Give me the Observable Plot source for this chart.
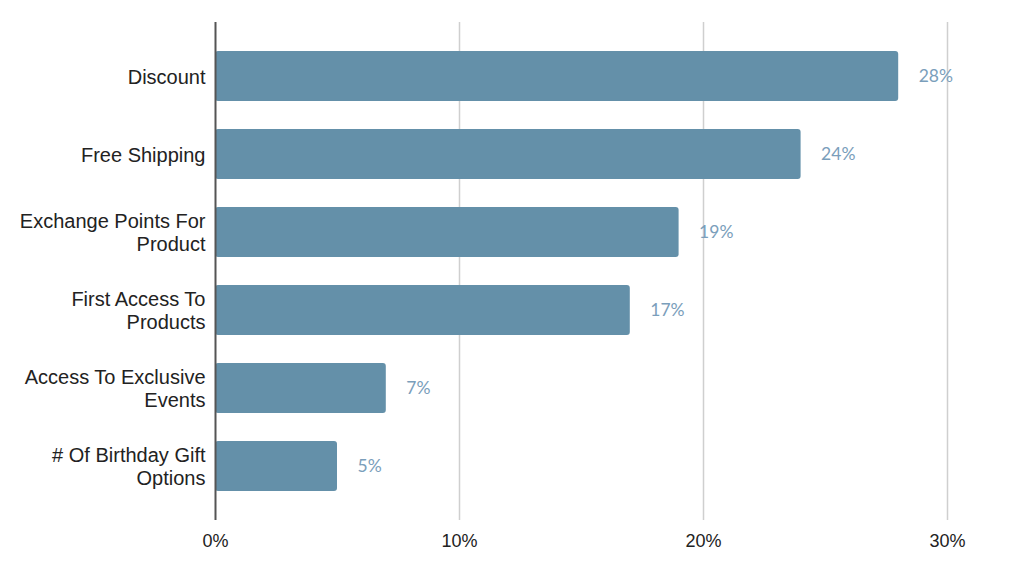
<!DOCTYPE html>
<html>
<head>
<meta charset="utf-8">
<script src="https://cdn.jsdelivr.net/npm/d3@7"></script>
<script src="https://cdn.jsdelivr.net/npm/@observablehq/plot@0.6"></script>
<style>
  html, body { margin: 0; padding: 0; background: #fff; }
  #chart svg { display: block; }
</style>
</head>
<body>
<div id="chart"></div>
<script>
const categories = [
  "Discount",
  "Free Shipping",
  "Exchange Points For Product",
  "First Access To Products",
  "Access To Exclusive Events",
  "# Of Birthday Gift Options"
];
const categoryLabels = [
  "Discount",
  "Free Shipping",
  "Exchange Points For\nProduct",
  "First Access To\nProducts",
  "Access To Exclusive\nEvents",
  "# Of Birthday Gift\nOptions"
];
const values = [28, 24, 19, 17, 7, 5];
const xTicks = [0, 10, 20, 30];

const data = categories.map((c, i) => ({ category: c, value: values[i] }));
const labelMap = new Map(categories.map((c, i) => [c, categoryLabels[i]]));

const chart = Plot.plot({
  width: 1024,
  height: 582,
  marginLeft: 215,
  marginRight: 77,
  marginTop: 22,
  marginBottom: 62,
  style: { fontFamily: "'Liberation Sans', Arial, sans-serif", fontSize: "18px", color: "#222", background: "#fff" },
  x: { domain: [0, 30], ticks: xTicks, label: null },
  y: { domain: categories, paddingInner: 0.36, paddingOuter: 0.344, label: null },
  marks: [
    Plot.gridX(xTicks.filter(t => t !== 0), { stroke: "#cfcfcf", strokeOpacity: 1, strokeWidth: 1.5 }),
    Plot.barX(data, { x: "value", y: "category", fill: "#6490A9", rx: 3 }),
    Plot.ruleX([0], { stroke: "#555", strokeWidth: 2 }),
    Plot.text(data, {
      x: "value", y: "category",
      text: d => d.value + "%",
      dx: 20, textAnchor: "start",
      fill: "#7A9EBB",
      fontFamily: "Lato, 'Open Sans', sans-serif",
      fontSize: 17.5
    }),
    Plot.axisX({ ticks: xTicks, tickSize: 0, tickPadding: 14, tickFormat: d => d + "%", fontSize: 18, fill: "#222", label: null }),
    Plot.axisY({ tickSize: 0, tickPadding: 10, tickFormat: d => labelMap.get(d), fontSize: 20, fill: "#222", lineHeight: 1.15, label: null })
  ]
});
document.getElementById("chart").appendChild(chart);
</script>
</body>
</html>
